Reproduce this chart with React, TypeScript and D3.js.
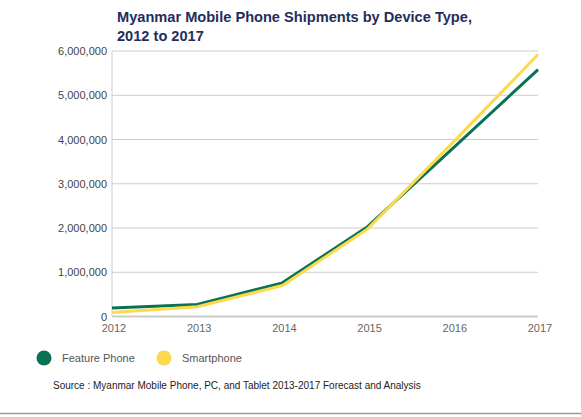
import React from "react";
import * as d3 from "d3";

const years = [2012, 2013, 2014, 2015, 2016, 2017];
const featurePhone = [190000, 270000, 760000, 2030000, 3800000, 5580000];
const smartphone = [90000, 220000, 700000, 1980000, 3930000, 5920000];
const yTicks = [0, 1000000, 2000000, 3000000, 4000000, 5000000, 6000000];
const seriesNames = ["Feature Phone", "Smartphone"];
const seriesColors = ["#0a7152", "#fdd94e"];
const titleLines = ["Myanmar Mobile Phone Shipments by Device Type,", "2012 to 2017"];
const sourceText = "Source : Myanmar Mobile Phone, PC, and Tablet 2013-2017 Forecast and Analysis";

const W = 581;
const H = 417;
const left = 112;
const right = 538;
const top = 51;
const bottom = 316.5;

export default function App() {
  const x = d3.scaleLinear().domain([2012, 2017]).range([left, right]);
  const y = d3.scaleLinear().domain([0, 6000000]).range([bottom, top]);
  const fmt = d3.format(",");
  const line = d3
    .line<number>()
    .x((_, i) => x(years[i]))
    .y((d) => y(d));
  const data = [featurePhone, smartphone];
  const font = "Arial, 'Liberation Sans', Helvetica, sans-serif";

  return (
    <svg
      width={W}
      height={H}
      style={{ position: "absolute", left: 0, top: 0, background: "#fff" }}
      fontFamily={font}
    >
      {titleLines.map((t, i) => (
        <text
          key={i}
          x={117}
          y={22 + i * 19}
          fontSize={14.6}
          fontWeight="bold"
          fill="#1f2e5c"
        >
          {t}
        </text>
      ))}
      {yTicks.map((t) => (
        <g key={t}>
          {t > 0 && (
            <line x1={left} x2={right} y1={y(t)} y2={y(t)} stroke="#cccccc" strokeWidth={1} />
          )}
          <text
            x={107}
            y={y(t) + 4}
            textAnchor="end"
            fontSize={11}
            fill="#444"
          >
            {fmt(t)}
          </text>
        </g>
      ))}
      <line x1={left} x2={left} y1={top} y2={bottom} stroke="#cccccc" strokeWidth={1} />
      <line x1={left} x2={right} y1={bottom} y2={bottom} stroke="#cccccc" strokeWidth={2} />
      {years.map((yr) => (
        <text
          key={yr}
          x={x(yr) + 2}
          y={bottom + 15}
          textAnchor="middle"
          fontSize={11}
          fill="#666"
        >
          {yr}
        </text>
      ))}
      {data.map((d, i) => (
        <path
          key={i}
          d={line(d) || ""}
          fill="none"
          stroke={seriesColors[i]}
          strokeWidth={3}
          strokeLinejoin="round"
        />
      ))}
      {seriesNames.map((n, i) => (
        <g key={n} transform={`translate(${44 + i * 120},358)`}>
          <circle r={7.5} fill={seriesColors[i]} />
          <text x={18} y={4} fontSize={11} fill="#555">
            {n}
          </text>
        </g>
      ))}
      <text x={53} y={389} fontSize={10} fill="#222">
        {sourceText}
      </text>
      <line x1={0} x2={W} y1={413.5} y2={413.5} stroke="#9a9a9a" strokeWidth={1.5} />
    </svg>
  );
}
